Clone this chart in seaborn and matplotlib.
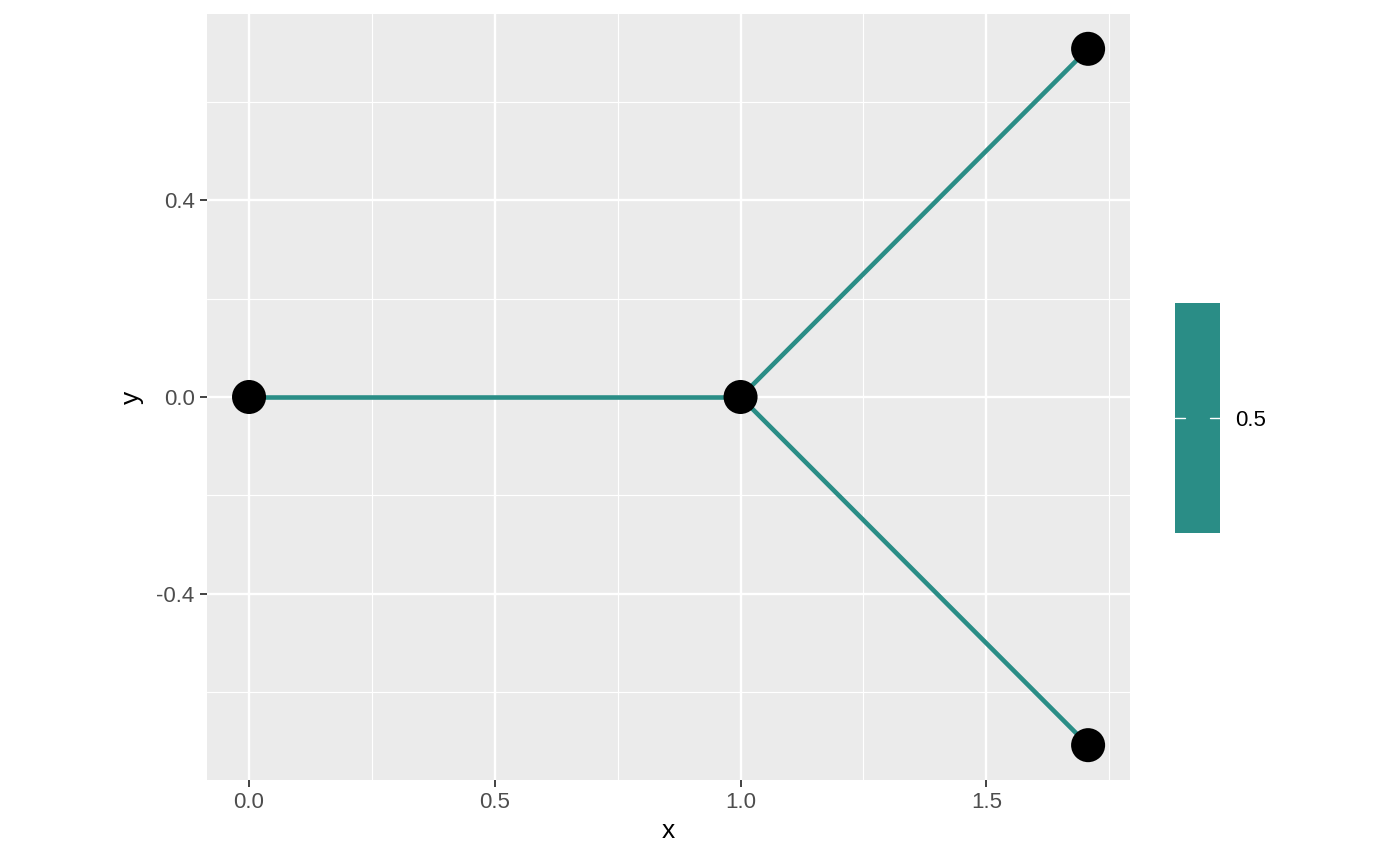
import matplotlib
matplotlib.use("Agg")
import matplotlib.pyplot as plt
import seaborn as sns
import pandas as pd
import numpy as np
from matplotlib.colors import ListedColormap, Normalize
from matplotlib.cm import ScalarMappable

# Data
node_x = [0.0, 1.0, 1.7071, 1.7071]
node_y = [0.0, 0.0, 0.7071, -0.7071]
edge_from = [0, 1, 1]
edge_to = [1, 2, 3]
edge_value = [0.5, 0.5, 0.5]
x_ticks = [0.0, 0.5, 1.0, 1.5]
y_ticks = [-0.4, 0.0, 0.4]
legend_ticks = [0.5]

edge_color = "#2A8D86"

sns.set_theme(style="darkgrid")
plt.rcParams['font.family'] = ['Liberation Sans', 'DejaVu Sans']

rows = []
for i, (a, b) in enumerate(zip(edge_from, edge_to)):
    rows.append({"edge": i, "x": node_x[a], "y": node_y[a], "v": edge_value[i]})
    rows.append({"edge": i, "x": node_x[b], "y": node_y[b], "v": edge_value[i]})
edges = pd.DataFrame(rows)
nodes = pd.DataFrame({"x": node_x, "y": node_y})

fig = plt.figure(figsize=(14, 8.65), dpi=100)
ax = fig.add_axes([0.1479, 0.0983, 0.6593, 0.8855])
ax.set_facecolor("#EBEBEB")

sns.lineplot(data=edges, x="x", y="y", units="edge", estimator=None, sort=False,
             color=edge_color, linewidth=3.3, ax=ax, legend=False, zorder=2)
sns.scatterplot(data=nodes, x="x", y="y", color="black", s=600, edgecolor="none",
                ax=ax, legend=False, zorder=3)

ax.set_xlim(-0.0854, 1.7925)
ax.set_ylim(-0.7778, 0.7778)
ax.set_xticks(x_ticks)
ax.set_xticklabels([f"{t:.1f}" for t in x_ticks])
ax.set_yticks(y_ticks)
ax.set_yticklabels([f"{t:.1f}" for t in y_ticks])
ax.set_xticks([0.25, 0.75, 1.25, 1.75], minor=True)
ax.set_yticks([-0.6, -0.2, 0.2, 0.6], minor=True)
ax.grid(which="major", color="white", linewidth=1.7)
ax.grid(which="minor", color="white", linewidth=0.85)
ax.set_axisbelow(True)
for s in ax.spines.values():
    s.set_visible(False)
ax.tick_params(which="major", length=5, width=1.3, color="#333333", labelcolor="#4D4D4D",
               labelsize=16, pad=4, bottom=True, left=True)
ax.tick_params(which="minor", length=0)
ax.set_xlabel("x", fontsize=19, color="black", labelpad=4)
ax.set_ylabel("y", fontsize=19, color="black", labelpad=9)

# colorbar legend
cax = fig.add_axes([0.8393, 0.3838, 0.0321, 0.2659])
cmap = ListedColormap([edge_color])
sm = ScalarMappable(norm=Normalize(0.4, 0.6), cmap=cmap)
cb = fig.colorbar(sm, cax=cax)
cb.outline.set_visible(False)
cb.set_ticks(legend_ticks)
cb.set_ticklabels([f"{t}" for t in legend_ticks])
cax.tick_params(axis="y", which="major", length=0, labelsize=16, labelcolor="black", pad=11)
cax.tick_params(which="minor", length=0)
for t in legend_ticks:
    cax.plot([0, 0.22], [t, t], color="white", linewidth=1, transform=cax.get_yaxis_transform())
    cax.plot([0.78, 1], [t, t], color="white", linewidth=1, transform=cax.get_yaxis_transform())

fig.savefig("out.png", dpi=100, facecolor="white")
